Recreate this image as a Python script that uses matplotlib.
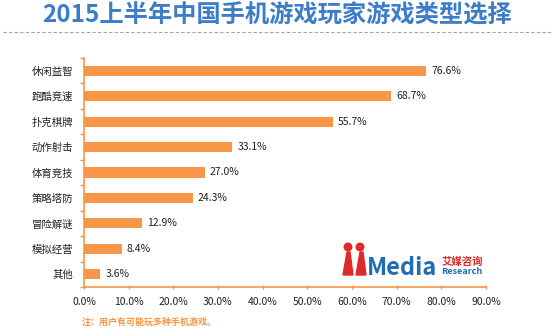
import matplotlib.pyplot as plt
from matplotlib.lines import Line2D
from matplotlib.patches import Ellipse, Polygon

plt.rcParams['font.family'] = ['Noto Sans CJK SC', 'DejaVu Sans']

categories = ['休闲益智', '跑酷竞速', '扑克棋牌', '动作射击', '体育竞技',
              '策略塔防', '冒险解谜', '模拟经营', '其他']
values = [76.6, 68.7, 55.7, 33.1, 27.0, 24.3, 12.9, 8.4, 3.6]
xticks = [0, 10, 20, 30, 40, 50, 60, 70, 80, 90]

orange = '#F79646'
blue = '#3D7DC8'
W, H = 554, 329

fig = plt.figure(figsize=(W / 100, H / 100), dpi=100)
ax = fig.add_axes([0.1516, 0.1277, 0.7256, 0.696])

ypos = range(len(categories))
ax.barh(ypos, values, height=0.4, color=orange)
for y, v in zip(ypos, values):
    ax.text(v + 1.2, y, f'{v:.1f}%', va='center', ha='left', fontsize=7.5, color='#222222')

ax.set_xlim(0, 90)
ax.set_ylim(8.5, -0.5)
ax.set_xticks(xticks)
ax.set_xticklabels([f'{t:.1f}%' for t in xticks], fontsize=7.5, color='#222222')
ax.set_yticks([i - 0.5 for i in range(len(categories) + 1)])
ax.set_yticklabels([])
ax.set_yticks(list(ypos), minor=True)
ax.set_yticklabels(categories, minor=True, fontsize=7.5, color='#222222')
ax.tick_params(axis='y', which='major', length=3, color=orange, width=1)
ax.tick_params(axis='y', which='minor', length=0, pad=8)
ax.tick_params(axis='x', length=3, direction='inout', color=orange, width=1, pad=6)

for s in ['top', 'right']:
    ax.spines[s].set_visible(False)
for s in ['left', 'bottom']:
    ax.spines[s].set_color(orange)
    ax.spines[s].set_linewidth(1.2)

fig.text(0.5, 0.954, '2015上半年中国手机游戏玩家游戏类型选择', ha='center', va='center',
         fontsize=17.5, fontweight='bold', color=blue)
fig.add_artist(Line2D([0.005, 0.995], [0.903, 0.903], transform=fig.transFigure,
                      color='#8FA8C8', linewidth=0.8, linestyle=(0, (3, 2))))

fig.text(0.148, 0.021, '注：用户有可能玩多种手机游戏。', ha='left', va='center',
         fontsize=6.5, fontweight='bold', color=orange)


# logo, placed in pixel coordinates
def px(x, y):
    return (x / W, 1 - y / H)


red = '#E02A2A'
for cx in (348, 360):
    fig.add_artist(Ellipse(px(cx, 247), 7.5 / W, 7.5 / H, transform=fig.transFigure, color=red))
for x0 in (343, 356):
    fig.add_artist(Polygon([px(x0, 275), px(x0 + 10, 275), px(x0 + 7, 252), px(x0 + 4, 252)],
                           transform=fig.transFigure, color=red))
fig.text(*px(367, 275), 'Media', ha='left', va='baseline', fontsize=17, fontweight='bold',
         color='#1F6DB5')
fig.text(*px(462, 262), '艾媒咨询', ha='center', va='center', fontsize=7.5, fontweight='bold',
         color=red)
fig.text(*px(462, 272), 'Research', ha='center', va='center', fontsize=6.5,
         fontstyle='italic', fontweight='bold', color='#1F6DB5')

fig.savefig('out.png', dpi=100)
